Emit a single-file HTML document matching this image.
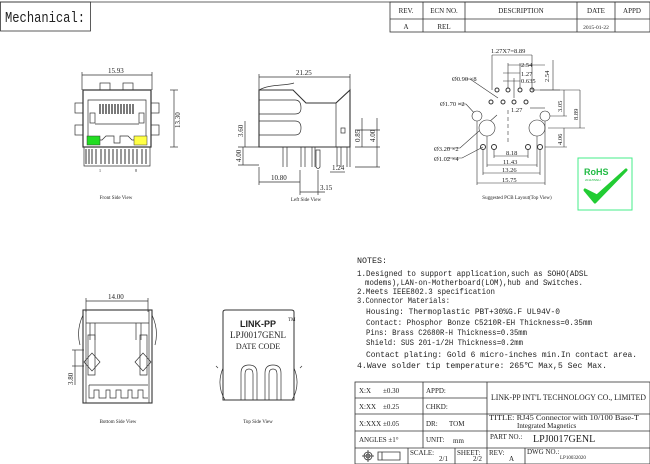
<!DOCTYPE html>
<html><head><style>
html,body{margin:0;padding:0;background:#fff;}
svg{display:block}
text{font-family:"Liberation Serif",serif;fill:#222}
text.m,.m text{font-family:"Liberation Mono",monospace}
text.s{font-family:"Liberation Sans",sans-serif}
</style></head><body>
<svg width="650" height="464" viewBox="0 0 650 464" xmlns="http://www.w3.org/2000/svg">
<g stroke="#333" fill="none" stroke-width="0.8">
<line x1="0" y1="2" x2="650" y2="2"/>
<rect x="0.5" y="2" width="90" height="29"/>
<rect x="390" y="2" width="260" height="30"/>
<line x1="390" y1="19" x2="650" y2="19"/>
<line x1="423" y1="2" x2="423" y2="32"/><line x1="465" y1="2" x2="465" y2="32"/>
<line x1="577" y1="2" x2="577" y2="32"/><line x1="615" y1="2" x2="615" y2="32"/>
</g>
<text x="5" y="22" font-size="15" class="m" textLength="80" lengthAdjust="spacingAndGlyphs">Mechanical:</text>
<g font-size="7" text-anchor="middle">
<text x="406" y="13">REV.</text><text x="444" y="13">ECN NO.</text><text x="521" y="13">DESCRIPTION</text><text x="596" y="13">DATE</text><text x="632" y="13">APPD</text>
<text x="406" y="29">A</text><text x="444" y="29">REL</text><text x="596" y="29" font-size="5.5">2015-01-22</text>
</g>

<!-- FRONT VIEW -->
<g stroke="#333" fill="none" stroke-width="0.7">
<line x1="82" y1="75" x2="152" y2="75"/><line x1="82" y1="72" x2="82" y2="90"/><line x1="152" y1="72" x2="152" y2="90"/>
<rect x="100" y="83" width="10" height="7"/><rect x="123" y="83" width="10" height="7"/>
<rect x="83" y="90" width="68" height="57" stroke-width="1.2"/>
<rect x="75" y="103" width="8" height="10"/><rect x="75" y="125" width="8" height="10"/>
<rect x="151" y="103" width="8" height="10"/><rect x="151" y="125" width="8" height="10"/>
<path d="M88 100 H146 V140 H132 L128 136 H120 V143 H114 V136 H106 L102 140 H88 Z"/>
<path d="M100 104 V114 M103 104 V114 M106 104 V114 M109 104 V114 M112 104 V114 M115 104 V114 M118 104 V114 M121 104 V114 M124 104 V114 M127 104 V114 M130 104 V114 M133 104 V114" stroke-width="1.3"/>
<rect x="90" y="113" width="5" height="10"/><rect x="139" y="113" width="5" height="10"/>
<line x1="95" y1="124" x2="139" y2="124"/>
<line x1="170" y1="90" x2="178" y2="90"/><line x1="170" y1="147" x2="178" y2="147"/><line x1="174" y1="90" x2="174" y2="147"/>
<path d="M84 147 V166 H150 V147"/>
<path d="M86 149 V164 M89 149 V164 M92 149 V164 M96 149 V164 M101 149 V164 M105 149 V164 M109 149 V164 M113 149 V164 M117 149 V164 M121 149 V164 M125 149 V164 M129 149 V164 M133 149 V164 M137 149 V164 M142 149 V164 M146 149 V164" stroke-width="1"/>
</g>
<rect x="87" y="136" width="13" height="9" fill="#22dd22" stroke="#333" stroke-width="0.5"/>
<rect x="134" y="136" width="13" height="9" fill="#ffff44" stroke="#333" stroke-width="0.5"/>
<g font-size="7">
<text x="108" y="73">15.93</text>
<text transform="translate(180,128) rotate(-90)">13.30</text>
<text x="99" y="172" font-size="4">1</text><text x="135" y="172" font-size="4">8</text>
<text x="116" y="199" font-size="5" text-anchor="middle">Front Side View</text>
</g>

<!-- LEFT VIEW -->
<g stroke="#333" fill="none" stroke-width="0.7">
<line x1="259" y1="77" x2="350" y2="77"/><line x1="259" y1="74" x2="259" y2="90"/><line x1="350" y1="74" x2="350" y2="90"/>
<path d="M259 90 C270 84 285 86 294 83" />
<path d="M259 147 V90 H293 L306 103 H336 L350 90 V147 Z" stroke-width="1.1"/>
<path d="M336 103 V147 M350 90 L336 103"/>
<path d="M259 100 H295 Q301 100 301 108 Q301 114 295 114 H259"/>
<path d="M259 121 H295 Q301 121 301 128 Q301 135 295 135 H259"/>
<rect x="341" y="128" width="4" height="5"/>
<line x1="259" y1="147" x2="330" y2="147"/>
<path d="M283 147 V167 M287 147 V167 M301 147 V167 M305 147 V167 M312 147 V167 M315 147 V167 M337 147 V167 M341 147 V167 M347 147 V167 M350 147 V167"/>
<path d="M316 150 V167 Q318 170 320 167 V150 Z"/>
<line x1="245" y1="121" x2="245" y2="147"/>
<line x1="238" y1="147" x2="259" y2="147"/><line x1="238" y1="165" x2="259" y2="165"/><line x1="243" y1="147" x2="243" y2="165"/>
<line x1="259" y1="167" x2="259" y2="185"/><line x1="259" y1="182" x2="300" y2="182"/>
<line x1="300" y1="170" x2="300" y2="195"/><line x1="318" y1="170" x2="318" y2="195"/><line x1="300" y1="192" x2="325" y2="192"/>
<line x1="330" y1="172" x2="345" y2="172"/>
<line x1="355" y1="130" x2="380" y2="130"/><line x1="355" y1="147" x2="380" y2="147"/><line x1="355" y1="167" x2="380" y2="167"/>
<line x1="362" y1="118" x2="362" y2="147"/><line x1="377" y1="118" x2="377" y2="167"/>
</g>
<g font-size="7">
<text x="296" y="75">21.25</text>
<text transform="translate(243,137) rotate(-90)">3.60</text>
<text transform="translate(241,162) rotate(-90)">4.00</text>
<text x="271" y="180">10.80</text>
<text x="320" y="190">3.15</text>
<text x="332" y="170">1.24</text>
<text transform="translate(360,142) rotate(-90)">0.85</text>
<text transform="translate(375,142) rotate(-90)">4.00</text>
<text x="306" y="201" font-size="5" text-anchor="middle">Left Side View</text>
</g>

<!-- PCB LAYOUT -->
<g stroke="#333" fill="none" stroke-width="0.6">
<line x1="492" y1="55" x2="532" y2="55"/><line x1="492" y1="55" x2="492" y2="90"/><line x1="532" y1="55" x2="532" y2="90"/>
<line x1="508" y1="65" x2="545" y2="65"/><line x1="508" y1="63" x2="508" y2="88"/><line x1="520" y1="63" x2="520" y2="88"/>
<line x1="503" y1="73" x2="520" y2="73"/><line x1="503" y1="81" x2="520" y2="81"/><line x1="514" y1="78" x2="514" y2="98"/>
<line x1="540" y1="90" x2="560" y2="90"/><line x1="553" y1="60" x2="553" y2="90"/>
<line x1="532" y1="90" x2="580" y2="90"/><line x1="548" y1="116" x2="567" y2="116"/><line x1="548" y1="128" x2="585" y2="128"/>
<line x1="564" y1="90" x2="564" y2="116"/><line x1="580" y1="90" x2="580" y2="128"/>
<line x1="545" y1="147" x2="567" y2="147"/><line x1="564" y1="128" x2="564" y2="147"/>
<line x1="530" y1="108" x2="545" y2="108"/>
<path d="M466 79 H470 L498 98"/><path d="M458 104 H466 L477 116"/>
<path d="M447 148 H460 L497 115"/><path d="M447 158 H462 L483 147"/>
<line x1="508" y1="110" x2="508" y2="145" stroke-dasharray="4 3"/>
<g fill="#fff">
<circle cx="477" cy="116" r="5"/><circle cx="545" cy="116" r="5"/>
<circle cx="487" cy="128" r="8"/><circle cx="537" cy="128" r="8"/>
</g>
<g stroke-width="1">
<circle cx="497" cy="90" r="2"/><circle cx="508" cy="90" r="2"/><circle cx="520" cy="90" r="2"/><circle cx="532" cy="90" r="2"/>
<circle cx="491" cy="102" r="2"/><circle cx="503" cy="102" r="2"/><circle cx="514" cy="102" r="2"/><circle cx="526" cy="102" r="2"/>
<circle cx="483" cy="147" r="2.5"/><circle cx="494" cy="147" r="2.5"/><circle cx="528" cy="147" r="2.5"/><circle cx="540" cy="147" r="2.5"/>
</g>
<path d="M494 150 V158 M528 150 V158 M487 136 V167 M537 136 V167 M483 150 V175 M540 150 V175 M477 121 V185 M545 121 V185"/>
<line x1="494" y1="156" x2="528" y2="156"/><line x1="487" y1="165" x2="537" y2="165"/>
<line x1="483" y1="173" x2="540" y2="173"/><line x1="477" y1="183" x2="545" y2="183"/>
</g>
<g font-size="6.5">
<text x="491" y="53">1.27X7=8.89</text>
<text x="521" y="67">2.54</text><text x="521" y="76">1.27</text><text x="521" y="83">0.635</text>
<text x="452" y="81">Ø0.90 ×8</text><text x="440" y="106">Ø1.70 ×2</text>
<text x="434" y="151">Ø3.20 ×2</text><text x="434" y="161">Ø1.02 ×4</text>
<text x="511" y="112">1.27</text>
<text x="506" y="155">8.18</text><text x="503" y="164">11.43</text><text x="502" y="172">13.26</text><text x="502" y="182">15.75</text>
<text transform="translate(549,82) rotate(-90)">2.54</text>
<text transform="translate(562,112) rotate(-90)">3.05</text>
<text transform="translate(578,120) rotate(-90)">8.89</text>
<text transform="translate(562,145) rotate(-90)">4.06</text>
<text x="517" y="199" font-size="5" text-anchor="middle">Suggested PCB Layout(Top View)</text>
</g>
<rect x="578" y="158" width="54" height="52" fill="#fff" stroke="#44ee88" stroke-width="1"/>
<text x="584" y="175" font-size="9" class="s" font-weight="bold" style="fill:#22bb44">RoHS</text>
<text x="585" y="181" font-size="3" class="s" style="fill:#22bb44">2011/65/EU</text>
<path d="M585 190 L595 202 L626 170 L597 196 Z" fill="#22cc33" stroke="#22cc33" stroke-width="3" stroke-linejoin="round"/>

<!-- BOTTOM VIEW -->
<g stroke="#333" fill="none" stroke-width="0.7">
<line x1="86" y1="301" x2="148" y2="301"/><line x1="86" y1="298" x2="86" y2="312"/><line x1="148" y1="298" x2="148" y2="312"/>
<rect x="83" y="310" width="69" height="93" stroke-width="1.1"/>
<line x1="86" y1="323" x2="149" y2="323"/><line x1="86" y1="310" x2="86" y2="403"/><line x1="149" y1="310" x2="149" y2="403"/>
<path d="M83 315 Q76 330 80 345 M152 315 Q159 330 155 345"/>
<path d="M90 323 V340 M95 323 V340 M136 323 V340 M141 323 V340"/>
<path d="M88 335 V375 H95 V335 Z M140 335 V375 H147 V335 Z"/>
<path d="M84 362 L92 353 L100 362 L92 371 Z M135 362 L143 353 L151 362 L143 371 Z"/>
<line x1="72" y1="350" x2="84" y2="350"/><line x1="72" y1="366" x2="84" y2="366"/><line x1="75" y1="350" x2="75" y2="385"/>
<path d="M89 385 H148 M89 385 V398 H94 V390 H99 V398 H106 V390 H110 V398 H116 V390 H121 V398 H128 V390 H132 V398 H138 V390 H143 V398 H148"/>
</g>
<g font-size="7">
<text x="108" y="299">14.00</text>
<text transform="translate(73,385) rotate(-90)">3.80</text>
<text x="118" y="423" font-size="5" text-anchor="middle">Bottom Side View</text>
<text x="258" y="423" font-size="5" text-anchor="middle">Top Side View</text>
</g>

<!-- TOP VIEW -->
<g stroke="#333" fill="none" stroke-width="0.7">
<path d="M223 400 V312 Q223 310 226 310 H291 Q294 310 294 312 V400 Z" stroke-width="1"/>
<path d="M223 368 Q216 385 225 400 M294 368 Q301 385 292 400 M218 368 L216 366 M300 368 L302 366"/>
<path d="M241 400 V373 Q241 365 249 365 Q257 365 257 373 V400 M245 400 V374 Q245 369 249 369 Q253 369 253 374 V400"/>
<path d="M265 400 V373 Q265 365 273 365 Q281 365 281 373 V400 M269 400 V374 Q269 369 273 369 Q277 369 277 374 V400"/>
</g>
<text x="258" y="327" font-size="9" class="s" font-weight="bold" text-anchor="middle">LINK-PP</text>
<text x="288" y="321" font-size="5">TM</text>
<text x="258" y="338" font-size="9" text-anchor="middle">LPJ0017GENL</text>
<text x="258" y="349" font-size="8" text-anchor="middle">DATE CODE</text>

<!-- NOTES -->
<g font-size="8.5" class="m">
<text x="357" y="263" textLength="30" lengthAdjust="spacingAndGlyphs">NOTES:</text>
<text x="357" y="276" textLength="231" lengthAdjust="spacingAndGlyphs">1.Designed to support application,such as SOHO(ADSL</text>
<text x="365" y="285" textLength="218" lengthAdjust="spacingAndGlyphs">modems),LAN-on-Motherboard(LOM),hub and Switches.</text>
<text x="357" y="294" textLength="138" lengthAdjust="spacingAndGlyphs">2.Meets IEEE802.3 specification</text>
<text x="357" y="303" textLength="93" lengthAdjust="spacingAndGlyphs">3.Connector Materials:</text>
<text x="366" y="314" textLength="194" lengthAdjust="spacingAndGlyphs">Housing: Thermoplastic PBT+30%G.F UL94V-0</text>
<text x="366" y="325" textLength="226" lengthAdjust="spacingAndGlyphs">Contact: Phosphor Bonze C5210R-EH Thickness=0.35mm</text>
<text x="366" y="335" textLength="161" lengthAdjust="spacingAndGlyphs">Pins: Brass C2680R-H  Thickness=0.35mm</text>
<text x="366" y="345" textLength="157" lengthAdjust="spacingAndGlyphs">Shield: SUS 201-1/2H  Thickness=0.2mm</text>
<text x="366" y="357" textLength="271" lengthAdjust="spacingAndGlyphs">Contact plating: Gold 6 micro-inches min.In contact area.</text>
<text x="357" y="368" textLength="250" lengthAdjust="spacingAndGlyphs">4.Wave solder tip temperature: 265℃ Max,5 Sec Max.</text>
</g>

<!-- TITLE BLOCK -->
<g stroke="#333" fill="none" stroke-width="0.8">
<rect x="355" y="382" width="295" height="82"/>
<line x1="355" y1="398" x2="487" y2="398"/><line x1="355" y1="414" x2="650" y2="414"/>
<line x1="355" y1="431" x2="650" y2="431"/><line x1="355" y1="448" x2="650" y2="448"/>
<line x1="423" y1="382" x2="423" y2="448"/><line x1="487" y1="382" x2="487" y2="464"/>
<line x1="408" y1="448" x2="408" y2="464"/><line x1="455" y1="448" x2="455" y2="464"/><line x1="525" y1="448" x2="525" y2="464"/>
<circle cx="368" cy="456" r="4"/><circle cx="368" cy="456" r="2"/><line x1="362" y1="456" x2="374" y2="456"/><line x1="368" y1="450" x2="368" y2="462"/>
<path d="M378 452 H400 V460 H378 Z M382 452 V460"/>
</g>
<g font-size="7">
<text x="359" y="393">X:X</text><text x="383" y="393">±0.30</text>
<text x="359" y="409">X:XX</text><text x="383" y="409">±0.25</text>
<text x="359" y="426">X:XXX</text><text x="383" y="426">±0.05</text>
<text x="359" y="442">ANGLES ±1°</text>
<text x="426" y="393">APPD:</text><text x="426" y="409">CHKD:</text>
<text x="426" y="426">DR:</text><text x="449" y="426">TOM</text>
<text x="426" y="442">UNIT:</text><text x="453" y="443">mm</text>
<text x="491" y="400" font-size="8" textLength="155" lengthAdjust="spacingAndGlyphs">LINK-PP INT'L TECHNOLOGY CO., LIMITED</text>
<text x="489" y="420" textLength="150" lengthAdjust="spacingAndGlyphs">TITLE:  RJ45 Connector with 10/100 Base-T</text>
<text x="517" y="428">Integrated Magnetics</text>
<text x="490" y="439">PART NO.:</text>
<text x="533" y="442" font-size="10">LPJ0017GENL</text>
<text x="410" y="455">SCALE:</text><text x="439" y="461">2/1</text>
<text x="457" y="455">SHEET:</text><text x="473" y="461">2/2</text>
<text x="489" y="455">REV:</text><text x="509" y="461">A</text>
<text x="527" y="454">DWG NO.:</text><text x="560" y="459" font-size="5">LP10032020</text>
</g>
</svg>
</body></html>
